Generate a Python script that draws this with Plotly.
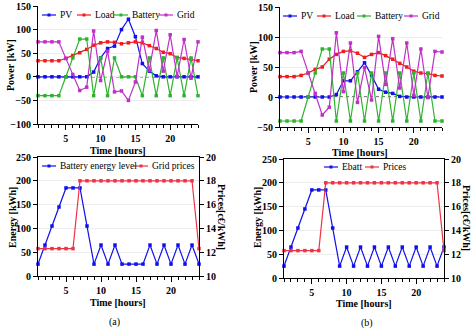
import plotly.graph_objects as go

hours = list(range(1, 25))

# (a) power flows [kW]
pv_a = [0, 0, 0, 0, 0, 0, 0, 0, 10, 40, 60, 65, 100, 122, 85, 28, 12, 2, 0, 0, 0, 0, 0, 0]
load_a = [34, 34, 34, 34, 39, 45, 51, 58, 67, 72, 74, 73, 70, 72, 74, 72, 66, 60, 52, 49, 41, 39, 37, 34]
batt_a = [-40, -40, -40, -40, 0, 40, 80, 80, -40, 40, -40, 40, 0, 0, 0, -40, 40, -40, 40, -40, 40, -40, 40, -40]
grid_a = [74, 74, 74, 74, 39, 5, -29, -22, 97, -8, 54, -32, -30, -50, -11, 84, 14, 98, 12, 89, 1, 79, -3, 74]

# (b) power flows [kW]
pv_b = [0, 0, 0, 0, 0, 0, 0, 0, 4, 27, 27, 42, 57, 36, 13, 8, 6, 1, 0, 0, 0, 0, 0, 0]
load_b = [34, 34, 34, 36, 40, 46, 50, 63, 71, 76, 77, 73, 66, 71, 74, 69, 63, 56, 50, 43, 40, 39, 36, 35]
batt_b = [-40, -40, -40, -40, 0, 40, 80, 80, -40, 40, -40, 40, -40, 40, -40, 40, -40, 40, -40, 40, -40, 40, -40, -40]
grid_b = [74, 74, 74, 76, 40, 6, -30, -17, 107, 9, 90, -9, 49, -5, 101, 21, 97, 15, 90, 3, 80, -1, 76, 75]

# energy [kWh] and prices [c€/kWh]
ebatt_a = [25, 65, 105, 145, 185, 185, 185, 105, 25, 65, 25, 65, 25, 25, 25, 25, 65, 25, 65, 25, 65, 25, 65, 25]
ebatt_b = [25, 65, 105, 145, 185, 185, 185, 105, 25, 65, 25, 65, 25, 65, 25, 65, 25, 65, 25, 65, 25, 65, 25, 65]
prices = [12.3] * 6 + [18] * 17 + [12.3]

C_PV = "#1010ee"
C_LOAD = "#ee1c1c"
C_BATT = "#2fb32f"
C_GRID = "#c12fc8"
C_PRICE = "#ee3344"

W, H = 474, 328
SERIF = "Liberation Serif"

def px(x):
    return x / W

def py(y):
    return 1 - y / H

fig = go.Figure()

def add_line(x, y, color, xa, ya):
    fig.add_trace(go.Scatter(
        x=x, y=y, mode="lines+markers", xaxis=xa, yaxis=ya,
        line=dict(color=color, width=1.2),
        marker=dict(color=color, size=3.5, symbol="square"),
        cliponaxis=False, showlegend=False, hoverinfo="skip"))

add_line(hours, pv_a, C_PV, "x", "y")
add_line(hours, load_a, C_LOAD, "x", "y")
add_line(hours, batt_a, C_BATT, "x", "y")
add_line(hours, grid_a, C_GRID, "x", "y")

add_line(hours, pv_b, C_PV, "x2", "y2")
add_line(hours, load_b, C_LOAD, "x2", "y2")
add_line(hours, batt_b, C_BATT, "x2", "y2")
add_line(hours, grid_b, C_GRID, "x2", "y2")

add_line(hours, ebatt_a, C_PV, "x3", "y3")
add_line(hours, prices, C_PRICE, "x3", "y5")
add_line(hours, ebatt_b, C_PV, "x4", "y4")
add_line(hours, prices, C_PRICE, "x4", "y6")

tickfont = dict(family=SERIF, size=10, color="black", weight="bold")

def xax(domain, anchor, mirror=False):
    return dict(domain=domain, anchor=anchor, range=[1, 24], automargin=False,
                tickvals=[5, 10, 15, 20], ticks="outside", ticklen=5,
                tickcolor="black", showline=True, linecolor="black", linewidth=1,
                mirror=mirror, showgrid=False, zeroline=False, tickfont=tickfont,
                minor=dict(dtick=1, tick0=0, ticks="outside", ticklen=3,
                           tickcolor="black", showgrid=False))

def yax(domain, anchor, rng, dtick, grid=True):
    return dict(domain=domain, anchor=anchor, range=rng, dtick=dtick, automargin=False,
                ticks="outside", ticklen=4, tickcolor="black",
                showline=True, linecolor="black", linewidth=1,
                showgrid=grid, gridcolor="#ededed", gridwidth=1,
                zeroline=False, tickfont=tickfont)

tl_x = [px(38), px(198)]
tl_y = [py(124), py(6)]
tr_x = [px(280), px(442)]
tr_y = [py(127), py(7)]
bl_x = [px(38), px(199)]
bl_y = [py(276), py(157)]
br_x = [px(284), px(444)]
br_y = [py(278), py(159)]

y5 = yax(bl_y, "x3", [10, 20], 2, grid=False)
y5.update(overlaying="y3", side="right")
y6 = yax(br_y, "x4", [10, 20], 2, grid=False)
y6.update(overlaying="y4", side="right")

fig.update_layout(
    template="none",
    width=W, height=H,
    margin=dict(l=0, r=0, t=0, b=0, autoexpand=False),
    paper_bgcolor="white", plot_bgcolor="white",
    font=dict(family=SERIF, color="black"),
    showlegend=False,
    xaxis=xax(tl_x, "y"),
    yaxis=yax(tl_y, "x", [-100, 150], 50),
    xaxis2=xax(tr_x, "y2"),
    yaxis2=yax(tr_y, "x2", [-50, 150], 50),
    xaxis3=xax(bl_x, "y3", mirror=True),
    yaxis3=yax(bl_y, "x3", [0, 250], 50),
    xaxis4=xax(br_x, "y4", mirror=True),
    yaxis4=yax(br_y, "x4", [0, 250], 50),
    yaxis5=y5,
    yaxis6=y6,
)

shapes = []
# dotted zero lines in the power plots
for xr, yr in (("x domain", "y"), ("x2 domain", "y2")):
    shapes.append(dict(type="line", xref=xr, yref=yr, x0=0, x1=1, y0=0, y1=0,
                       line=dict(color="black", width=1, dash="dot"), layer="below"))

annotations = []

def ann(x, y, text, size=10, angle=0, bold=True, xanchor="center"):
    annotations.append(dict(
        x=px(x), y=py(y), xref="paper", yref="paper", showarrow=False,
        text=("<b>%s</b>" % text) if bold else text, textangle=angle,
        xanchor=xanchor, yanchor="middle",
        font=dict(family=SERIF, size=size, color="black")))

def legend_item(x0, y, color, text):
    shapes.append(dict(type="line", xref="paper", yref="paper",
                       x0=px(x0), x1=px(x0 + 14), y0=py(y), y1=py(y),
                       line=dict(color=color, width=1.2)))
    shapes.append(dict(type="rect", xref="paper", yref="paper",
                       x0=px(x0 + 5.5), x1=px(x0 + 8.5), y0=py(y - 1.5), y1=py(y + 1.5),
                       line=dict(width=0), fillcolor=color))
    ann(x0 + 16, y, text, size=9.5, bold=False, xanchor="left")

# legends
legend_item(42, 15, C_PV, "PV")
legend_item(77, 15, C_LOAD, "Load")
legend_item(114, 15, C_BATT, "Battery")
legend_item(159, 15, C_GRID, "Grid")

legend_item(283, 16, C_PV, "PV")
legend_item(317, 16, C_LOAD, "Load")
legend_item(357, 16, C_BATT, "Battery")
legend_item(404, 16, C_GRID, "Grid")

legend_item(42, 166, C_PV, "Battery energy level")
legend_item(134, 166, C_PRICE, "Grid prices")

legend_item(324, 167, C_PV, "Ebatt")
legend_item(365, 167, C_PRICE, "Prices")

# axis titles
ann(10, 65, "Power [kW]", angle=-90)
ann(254, 67, "Power [kW]", angle=-90)
ann(12, 218, "Energy [kWh]", angle=-90)
ann(257, 218, "Energy [kWh]", angle=-90)
ann(222, 217, "Prices[c€/kWh]", angle=90)
ann(467, 218, "Prices[c€/kWh]", angle=90)
ann(118, 150, "Time [hours]")
ann(360, 152, "Time [hours]")
ann(118, 302, "Time [hours]")
ann(364, 303, "Time [hours]")
ann(114, 322, "(a)", bold=False)
ann(367, 323, "(b)", bold=False)

fig.update_layout(shapes=shapes, annotations=annotations)

fig.write_html("out.html")
